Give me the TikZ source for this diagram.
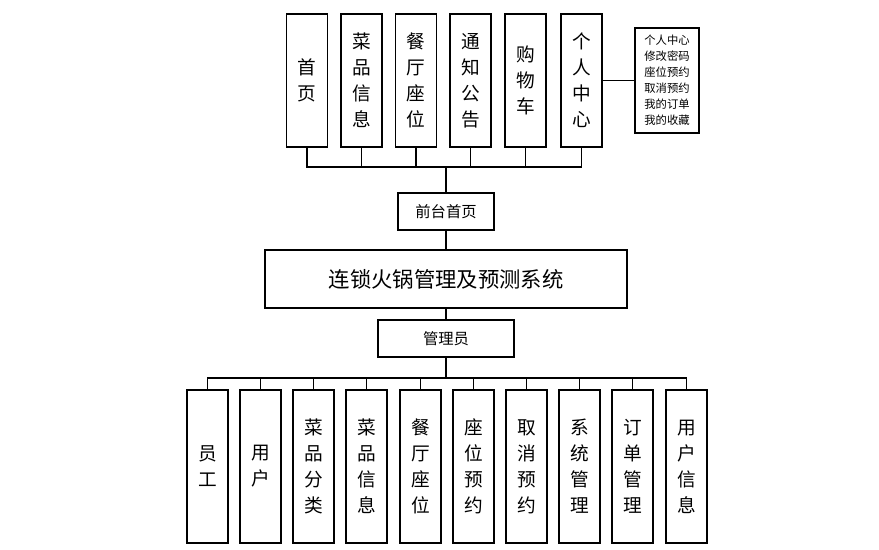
\documentclass[tikz,border=0pt]{standalone}
\usepackage{fontspec}
\setmainfont{Noto Sans CJK SC}
\begin{document}
\begin{tikzpicture}[x=0.75pt,y=-0.75pt,
  box/.style={draw,line width=1.1pt,inner sep=0pt,align=center},
  vbox/.style={box,minimum width=30.75pt,font=\fontsize{14}{19.5}\selectfont},
  ln/.style={line width=1.1pt}]
\useasboundingbox (0,0) rectangle (879,550);
\foreach \n/\x/\t in {t1/307/首\\页, t2/361.5/菜\\品\\信\\息, t3/416/餐\\厅\\座\\位, t4/470.5/通\\知\\公\\告, t5/525.5/购\\物\\车, t6/581.5/个\\人\\中\\心}
  \node[vbox,minimum height=99.75pt] (\n) at (\x,80.5) {\t};
\node[box,minimum width=48pt,minimum height=78.75pt,font=\fontsize{8.5}{12}\selectfont] (pc) at (667,80.5) {个人中心\\修改密码\\座位预约\\取消预约\\我的订单\\我的收藏};
\draw[ln] (t6.east) -- (pc.west);
\node[box,minimum width=72pt,minimum height=27.75pt,font=\fontsize{11.5}{14}\selectfont] (front) at (446,211.5) {前台首页};
\node[box,minimum width=271.5pt,minimum height=43.5pt,font=\fontsize{16}{20}\selectfont] (main) at (446,279) {连锁火锅管理及预测系统};
\node[box,minimum width=102pt,minimum height=27.75pt,font=\fontsize{11.5}{14}\selectfont] (admin) at (446,338.5) {管理员};
\coordinate (bt) at (446,167);
\coordinate (bb) at (446,378);
\foreach \n in {t1,t2,t3,t4,t5,t6} \draw[ln] (\n.south) |- (bt);
\draw[ln] (bt) -- (front.north);
\draw[ln] (front.south) -- (main.north);
\draw[ln] (main.south) -- (admin.north);
\draw[ln] (admin.south) -- (bb);
\foreach \n/\x/\t in {b1/207.5/员\\工, b2/260.5/用\\户, b3/313.5/菜\\品\\分\\类, b4/366.5/菜\\品\\信\\息, b5/420.5/餐\\厅\\座\\位, b6/473.5/座\\位\\预\\约, b7/526.5/取\\消\\预\\约, b8/579.5/系\\统\\管\\理, b9/632.5/订\\单\\管\\理, b10/686.5/用\\户\\信\\息}
{ \node[vbox,minimum height=114.75pt] (\n) at (\x,466.5) {\t};
  \draw[ln] (bb) -| (\n.north); }
\end{tikzpicture}
\end{document}
